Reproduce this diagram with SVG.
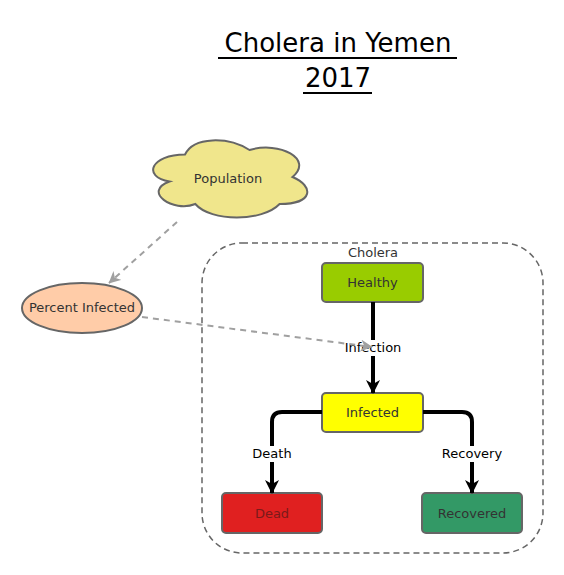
<svg xmlns="http://www.w3.org/2000/svg" width="564" height="575" viewBox="0 0 564 575">
<defs>
<style>
text{font-family:"DejaVu Sans","Liberation Sans",sans-serif;}
.node{stroke:#666666;stroke-width:2;}
.lbl{font-size:13px;fill:#333333;text-anchor:middle;}
.elbl{font-size:13px;fill:#000000;text-anchor:middle;}
.flow{fill:none;stroke:#000000;stroke-width:4;stroke-linejoin:round;}
.dep{fill:none;stroke:#a0a0a0;stroke-width:2;stroke-dasharray:6 5;}
.title{font-size:26px;fill:#000000;text-anchor:middle;}
</style>
<marker id="blk" viewBox="0 0 14 14" refX="13" refY="7" markerWidth="14" markerHeight="14" markerUnits="userSpaceOnUse" orient="auto">
<path d="M0,0 L14,7 L0,14 L4,7 Z" fill="#000000"/>
</marker>
<marker id="gry" viewBox="0 0 10 10" refX="9.5" refY="5" markerWidth="12" markerHeight="12" markerUnits="userSpaceOnUse" orient="auto">
<path d="M0,0 L10,5 L0,10 L3,5 Z" fill="#a0a0a0"/>
</marker>
</defs>
<rect width="564" height="575" fill="#ffffff"/>

<g id="title">
<text class="title" x="338" y="52">Cholera in Yemen</text>
<line x1="218" y1="58" x2="457" y2="58" stroke="#000" stroke-width="2"/>
<text class="title" x="338" y="87">2017</text>
<line x1="303" y1="93" x2="372" y2="93" stroke="#000" stroke-width="2"/>
</g>

<g id="cholera-container">
<rect x="202" y="243" width="341" height="310" rx="40" ry="40" fill="none" stroke="#666666" stroke-width="1.5" stroke-dasharray="6 4"/>
<text class="lbl" x="373" y="257">Cholera</text>
</g>

<g id="population">
<path class="node" fill="#f0e68c" d="M185,154.5 C150.6,154.5 142,177 169.5,181.5 C142,191.4 173,213 195.3,204 C210.8,222 262.4,222 279.6,204 C314,204 314,186 292.5,177 C314,159 279.6,141 249.5,150 C228,136.5 193.6,136.5 185,154.5 Z"/>
<text class="lbl" x="228" y="183">Population</text>
</g>

<g id="percent-infected">
<ellipse class="node" cx="82" cy="308" rx="60" ry="25" fill="#ffcca8"/>
<text class="lbl" x="82" y="312">Percent Infected</text>
</g>

<g id="healthy">
<rect class="node" x="322" y="263" width="101" height="39" rx="4" fill="#99cc00"/>
<text class="lbl" x="372.5" y="287">Healthy</text>
</g>

<g id="infected">
<rect class="node" x="322" y="393" width="101" height="39" rx="4" fill="#ffff00"/>
<text class="lbl" x="372.5" y="417">Infected</text>
</g>

<g id="dead">
<rect class="node" x="222" y="493" width="100" height="40" rx="4" fill="#e02020"/>
<text class="lbl" x="272" y="518" style="fill:#7a1a1a">Dead</text>
</g>

<g id="recovered">
<rect class="node" x="422" y="493" width="100" height="40" rx="4" fill="#339966"/>
<text class="lbl" x="472" y="518">Recovered</text>
</g>

<g id="connectors">
<path class="flow" d="M373,302 L373,393" marker-end="url(#blk)"/>
<rect x="340" y="340" width="66" height="16" fill="#ffffff"/>
<text class="elbl" x="373" y="352">Infection</text>

<path class="flow" d="M322,412 L282,412 Q272,412 272,422 L272,493" marker-end="url(#blk)"/>
<rect x="250" y="446" width="44" height="16" fill="#ffffff"/>
<text class="elbl" x="272" y="458">Death</text>

<path class="flow" d="M423,412 L462,412 Q472,412 472,422 L472,493" marker-end="url(#blk)"/>
<rect x="439" y="446" width="66" height="16" fill="#ffffff"/>
<text class="elbl" x="472" y="458">Recovery</text>

<path class="dep" d="M177,222 L109,283" marker-end="url(#gry)"/>
<path class="dep" d="M142,317 L372,347" marker-end="url(#gry)"/>
</g>
</svg>
